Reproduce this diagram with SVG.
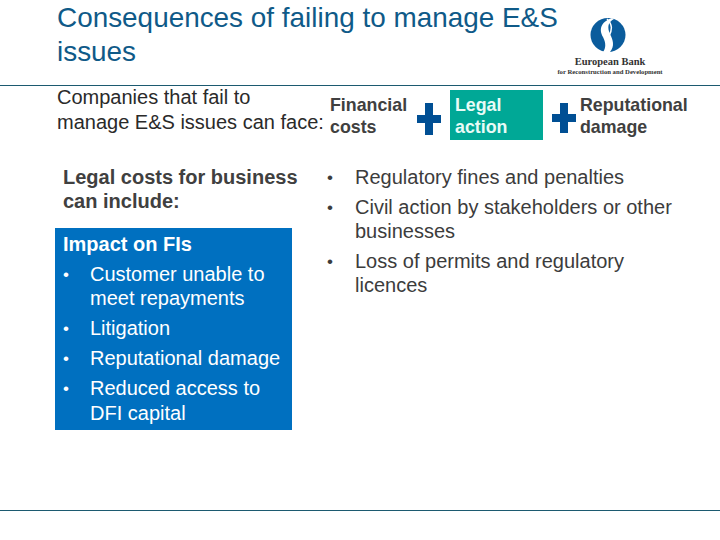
<svg xmlns="http://www.w3.org/2000/svg" width="720" height="540" viewBox="0 0 720 540">
<style>
text{font-family:"Liberation Sans",Arial,sans-serif}
.t{font-size:27.9px;fill:#0f5a88}
.b{font-size:20px;fill:#3c3c3c}
.i{font-size:20px;fill:#2a2a2a}
.w{font-size:20px;fill:#fff}
.s{font-size:17px;fill:#3c3c3c}
.sw{font-size:17px;fill:#fff}
.bb{font-size:20px;font-weight:bold;fill:#404040}
.wb{font-size:20px;font-weight:bold;fill:#fff}
.h{font-size:17.8px;font-weight:bold;fill:#404040}
.hw{font-size:17.8px;font-weight:bold;fill:#e8fbf6}
.p{fill:#004f94}
</style>
<rect width="720" height="540" fill="#fff"/>
<g id="title"><text class="t" x="57" y="26.5">Consequences of failing to manage E&amp;S</text><text class="t" x="57" y="60.5">issues</text></g>
<g id="logo">
<ellipse cx="608" cy="35" rx="17.5" ry="17" fill="#0b5c9c"/>
<path d="M612 18C600 22 599 30 603 37C606 43 606 48 603 52L610 52C615 46 613 40 610 34C607 27 608 22 614 19Z" fill="#fff"/>
<path d="M607 19C613 25 612 30 609 36" fill="none" stroke="#fff" stroke-width="1.5"/>
<text x="610" y="65" text-anchor="middle" font-size="10.5" font-weight="bold" style="font-family:'Liberation Serif',serif" fill="#333">European Bank</text>
<text x="610" y="74" text-anchor="middle" font-size="6.7" font-weight="bold" style="font-family:'Liberation Serif',serif" fill="#333">for Reconstruction and Development</text>
</g>
<g id="rules"><rect x="0" y="85" width="720" height="1" fill="#1c5a70"/><rect x="0" y="510" width="720" height="1" fill="#1c5a70"/></g>
<g id="intro"><text class="i" x="57" y="104">Companies that fail to</text><text class="i" x="57" y="129">manage E&amp;S issues can face:</text></g>
<g id="financial"><text class="h" x="330" y="111">Financial</text><text class="h" x="330" y="133">costs</text></g>
<g id="plus1"><rect class="p" x="425" y="103" width="8" height="32"/><rect class="p" x="417" y="115" width="24" height="8"/></g>
<g id="legal"><rect x="450" y="90" width="93" height="50" fill="#00a896"/><text class="hw" x="455" y="111">Legal</text><text class="hw" x="455" y="133">action</text></g>
<g id="plus2"><rect class="p" x="560" y="103" width="8" height="30"/><rect class="p" x="552" y="114" width="24" height="8"/></g>
<g id="reputational"><text class="h" x="580" y="111">Reputational</text><text class="h" x="580" y="133">damage</text></g>
<g id="legal-costs"><text class="bb" x="63" y="184">Legal costs for business</text><text class="bb" x="63" y="208">can include:</text></g>
<g id="impact"><rect x="55" y="228" width="237" height="202" fill="#0070c0"/>
<text class="wb" x="63" y="251">Impact on FIs</text>
<text class="sw" x="63" y="280">•</text><text class="w" x="90" y="281">Customer unable to</text><text class="w" x="90" y="305">meet repayments</text>
<text class="sw" x="63" y="334">•</text><text class="w" x="90" y="335">Litigation</text>
<text class="sw" x="63" y="364">•</text><text class="w" x="90" y="365">Reputational damage</text>
<text class="sw" x="63" y="394">•</text><text class="w" x="90" y="395">Reduced access to</text><text class="w" x="90" y="420">DFI capital</text></g>
<g id="list">
<text class="s" x="327" y="183">•</text><text class="b" x="355" y="184">Regulatory fines and penalties</text>
<text class="s" x="327" y="213">•</text><text class="b" x="355" y="214">Civil action by stakeholders or other</text><text class="b" x="355" y="238">businesses</text>
<text class="s" x="327" y="267">•</text><text class="b" x="355" y="268">Loss of permits and regulatory</text><text class="b" x="355" y="292">licences</text>
</g>
</svg>
